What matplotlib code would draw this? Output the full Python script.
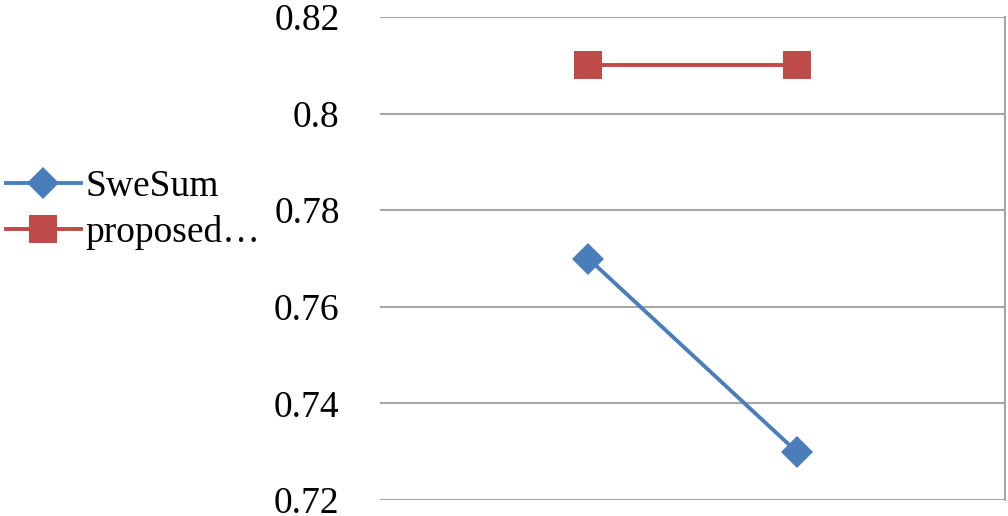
import matplotlib.pyplot as plt

plt.rcParams["font.family"] = ["Liberation Serif", "DejaVu Serif"]

positions = [1, 2]
swesum = [0.77, 0.73]
proposed = [0.81, 0.81]
series_names = ["SweSum", "proposed…"]
yticks = [0.72, 0.74, 0.76, 0.78, 0.8, 0.82]
ytick_labels = ["0.72", "0.74", "0.76", "0.78", "0.8", "0.82"]

fig = plt.figure(figsize=(10.08, 5.16), dpi=100)
ax = fig.add_axes([0.377, 0.031, 0.620, 0.936])

l1, = ax.plot(positions, swesum, color="#4a7ebb", lw=2.8, marker="D", ms=16,
              markeredgewidth=0, label=series_names[0], zorder=3)
l2, = ax.plot(positions, proposed, color="#be4b48", lw=2.8, marker="s", ms=20,
              markeredgewidth=0, label=series_names[1], zorder=3)

ax.set_xlim(0, 3)
ax.set_ylim(0.72, 0.82)
ax.set_yticks(yticks)
ax.set_yticklabels(ytick_labels)
ax.set_xticks([])
ax.tick_params(axis="y", length=0, pad=29, labelsize=27)
ax.grid(axis="y", color="#a6a6a6", lw=1.5)
for s in ["left", "top", "bottom"]:
    ax.spines[s].set_visible(False)
ax.spines["right"].set_color("#a6a6a6")
ax.spines["right"].set_linewidth(1.5)

fig.legend(handles=[l1, l2], loc="center left", bbox_to_anchor=(-0.009, 0.593),
           frameon=False, fontsize=27, handlelength=2.0, handletextpad=0.12,
           labelspacing=0.3, borderaxespad=0)

fig.savefig("out.png", dpi=100)
